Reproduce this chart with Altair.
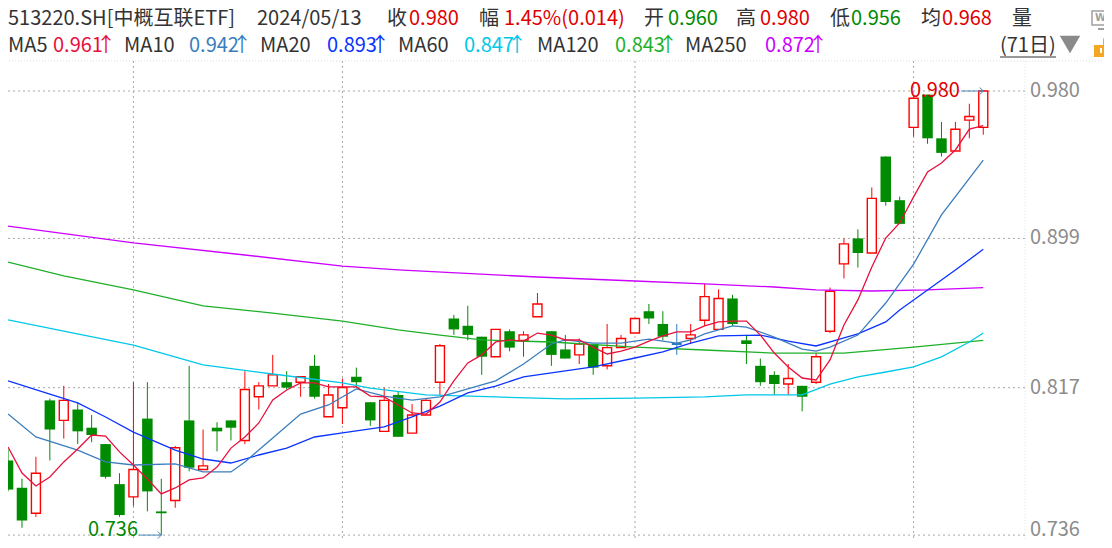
import altair as alt
import pandas as pd

# ------------------------------------------------------------------ data
opens = [0.777, 0.762, 0.748, 0.810, 0.799, 0.805, 0.795, 0.786, 0.764, 0.757,
         0.800, 0.749, 0.755, 0.799, 0.772, 0.795, 0.799, 0.788, 0.812, 0.818,
         0.820, 0.820, 0.829, 0.801, 0.806, 0.823, 0.809, 0.793, 0.813, 0.792,
         0.802, 0.820, 0.855, 0.851, 0.845, 0.834, 0.848, 0.843, 0.856, 0.848,
         0.838, 0.835, 0.841, 0.829, 0.839, 0.847, 0.859, 0.852, 0.841, 0.844,
         0.854, 0.849, 0.866, 0.843, 0.829, 0.824, 0.819, 0.818, 0.820, 0.848,
         0.885, 0.899, 0.891, 0.944, 0.920, 0.960, 0.978, 0.954, 0.947, 0.964,
         0.960]
highs = [0.783, 0.767, 0.779, 0.811, 0.818, 0.809, 0.802, 0.786, 0.770, 0.820,
         0.820, 0.767, 0.785, 0.829, 0.794, 0.798, 0.799, 0.826, 0.820, 0.835,
         0.826, 0.823, 0.835, 0.819, 0.822, 0.828, 0.809, 0.817, 0.815, 0.808,
         0.811, 0.841, 0.857, 0.862, 0.845, 0.849, 0.849, 0.848, 0.869, 0.848,
         0.846, 0.844, 0.841, 0.852, 0.846, 0.855, 0.863, 0.859, 0.852, 0.852,
         0.874, 0.871, 0.868, 0.846, 0.833, 0.826, 0.830, 0.818, 0.836, 0.872,
         0.899, 0.904, 0.927, 0.944, 0.922, 0.977, 0.978, 0.963, 0.963, 0.973,
         0.980]
lows = [0.760, 0.740, 0.746, 0.777, 0.789, 0.786, 0.787, 0.767, 0.746, 0.752,
        0.749, 0.736, 0.751, 0.771, 0.772, 0.782, 0.788, 0.786, 0.805, 0.818,
        0.816, 0.812, 0.811, 0.801, 0.797, 0.817, 0.796, 0.793, 0.790, 0.792,
        0.802, 0.813, 0.846, 0.843, 0.824, 0.834, 0.837, 0.834, 0.856, 0.829,
        0.833, 0.830, 0.824, 0.827, 0.839, 0.847, 0.852, 0.843, 0.835, 0.841,
        0.851, 0.849, 0.851, 0.830, 0.818, 0.813, 0.813, 0.804, 0.819, 0.847,
        0.877, 0.883, 0.891, 0.917, 0.907, 0.955, 0.951, 0.944, 0.947, 0.954,
        0.956]
closes = [0.761, 0.744, 0.770, 0.794, 0.810, 0.793, 0.791, 0.768, 0.747, 0.772,
          0.760, 0.748, 0.784, 0.773, 0.774, 0.793, 0.795, 0.816, 0.818, 0.824,
          0.817, 0.823, 0.812, 0.813, 0.817, 0.820, 0.799, 0.810, 0.790, 0.802,
          0.810, 0.840, 0.849, 0.846, 0.834, 0.849, 0.839, 0.846, 0.863, 0.835,
          0.833, 0.841, 0.828, 0.839, 0.844, 0.855, 0.855, 0.845, 0.841, 0.846,
          0.867, 0.866, 0.852, 0.841, 0.820, 0.819, 0.822, 0.812, 0.834, 0.870,
          0.896, 0.891, 0.921, 0.919, 0.907, 0.976, 0.954, 0.946, 0.959, 0.966,
          0.980]

ma5_idx = list(range(71))
ma5 = [0.7844, 0.7701, 0.7630, 0.7679, 0.7762, 0.7833, 0.7910, 0.7904, 0.7817, 0.7745,
       0.7668, 0.7586, 0.7619, 0.7663, 0.7674, 0.7734, 0.7838, 0.7899, 0.7976, 0.8102,
       0.8157, 0.8196, 0.8196, 0.8174, 0.8174, 0.8174, 0.8124, 0.8119, 0.8075, 0.8031,
       0.8025, 0.8091, 0.8207, 0.8306, 0.8350, 0.8421, 0.8432, 0.8426, 0.8470, 0.8459,
       0.8432, 0.8432, 0.8393, 0.8355, 0.8371, 0.8393, 0.8426, 0.8454, 0.8476, 0.8476,
       0.8509, 0.8531, 0.8536, 0.8536, 0.8459, 0.8360, 0.8284, 0.8223, 0.8212, 0.8322,
       0.8514, 0.8652, 0.8833, 0.8992, 0.9075, 0.9218, 0.9355, 0.9404, 0.9476, 0.9591,
       0.961]
ma10_idx = [0, 2, 5, 7, 9, 12, 14, 16, 17, 19, 21, 23, 25, 27, 29, 31, 33, 35, 37,
            39, 40, 42, 44, 46, 48, 49, 50, 52, 53, 55, 57, 58, 59, 61, 63, 65, 67, 70]
ma10 = [0.8025, 0.7899, 0.7827, 0.7762, 0.7745, 0.7751, 0.7707, 0.7707, 0.7762, 0.7893,
        0.8025, 0.8075, 0.8163, 0.8124, 0.8102, 0.8119, 0.8163, 0.8207, 0.8300, 0.8410,
        0.8432, 0.8415, 0.8415, 0.8437, 0.8415, 0.8432, 0.8465, 0.8509, 0.8503, 0.8448,
        0.8382, 0.8371, 0.8393, 0.8459, 0.8635, 0.8849, 0.9119, 0.942]
ma20_idx = [0, 3, 5, 7, 9, 12, 14, 16, 18, 20, 22, 24, 27, 29, 31, 33, 35, 37, 39,
            42, 45, 47, 49, 51, 54, 56, 58, 60, 61, 63, 64, 66, 68, 70]
ma20 = [0.8207, 0.8135, 0.8086, 0.8009, 0.7926, 0.7827, 0.7778, 0.7756, 0.7800, 0.7838,
        0.7899, 0.7921, 0.7954, 0.8009, 0.8069, 0.8141, 0.8179, 0.8229, 0.8251, 0.8284,
        0.8333, 0.8366, 0.8415, 0.8454, 0.8459, 0.8426, 0.8399, 0.8443, 0.8465, 0.8531,
        0.8597, 0.8707, 0.8817, 0.893]
ma60_idx = [0, 4, 9, 14, 19, 24, 26, 30, 35, 40, 45, 50, 53, 57, 59, 61, 63, 65, 67, 69, 70]
ma60 = [0.8542, 0.8481, 0.8404, 0.8295, 0.8245, 0.8196, 0.8168, 0.8130, 0.8119, 0.8108,
        0.8113, 0.8119, 0.8130, 0.8130, 0.8190, 0.8229, 0.8256, 0.8284, 0.8339, 0.8421,
        0.847]
ma120_idx = [0, 4, 9, 14, 19, 24, 28, 31, 34, 39, 45, 50, 55, 60, 65, 70]
ma120 = [0.8860, 0.8784, 0.8707, 0.8619, 0.8580, 0.8536, 0.8487, 0.8459, 0.8432, 0.8421,
         0.8393, 0.8377, 0.8360, 0.8360, 0.8393, 0.843]
ma250_idx = [0, 9, 17, 24, 28, 38, 45, 50, 55, 58, 62, 66, 70]
ma250 = [0.9058, 0.8965, 0.8899, 0.8838, 0.8817, 0.8778, 0.8756, 0.8740, 0.8723, 0.8707,
         0.8701, 0.8707, 0.872]

price_ticks = [0.980, 0.899, 0.817, 0.736]
month_start_idx = [9, 24, 45, 65]

title_texts = ["513220.SH[中概互联ETF]", "2024/05/13", "收", "0.980", "幅", "1.45%(0.014)",
               "开", "0.960", "高", "0.980", "低", "0.956", "均", "0.968", "量"]
ma_names = ["MA5", "MA10", "MA20", "MA60", "MA120", "MA250"]
ma_last = ["0.961", "0.942", "0.893", "0.847", "0.843", "0.872"]
ma_trend = ["↑", "↑", "↑", "↑", "↑", "↑"]
period_label = "(71日)"

# ------------------------------------------------------------------ style / layout
FONT = "Noto Sans CJK SC"
RED, GREEN, FLAT = "#ff0000", "#008c00", "#2f7bbf"
TXT, UP_T, DN_T = "#333333", "#e00000", "#008a00"
ma_colors = ["#e8103c", "#3b7dbd", "#0a33ff", "#00c8e8", "#1fb02a", "#cc00ff"]
title_colors = [TXT, TXT, TXT, UP_T, TXT, UP_T, TXT, DN_T, TXT, UP_T, TXT, DN_T, TXT, UP_T, TXT]

W, H, PAGE = 1096, 532, 8
STEP = 14.06                       # pixels between candles
X_FIRST = 3 - PAGE                 # chart x of first candle
PPU = 1820.0                       # pixels per price unit
REF_P, REF_Y = 0.980, 91 - PAGE
PLOT_RIGHT = 1025 - PAGE
TOP = 61 - PAGE

xs = alt.Scale(domain=[(0 - X_FIRST) / STEP, (W - X_FIRST) / STEP], nice=False, zero=False)
ys = alt.Scale(domain=[REF_P - (H - REF_Y) / PPU, REF_P + REF_Y / PPU], nice=False, zero=False)

title_x = [0, 257, 387, 409, 479, 504, 644, 668, 736, 760, 830, 851, 921, 942, 1012]
ma_name_x = [0, 124, 260, 398, 537, 685]
ma_val_x = [53, 189, 327, 464, 615, 765]
ARROW_DX = 53
LINE1_Y, LINE2_Y = 19, 46

# ------------------------------------------------------------------ frames
n = len(closes)
cdf = pd.DataFrame({"idx": range(n), "o": opens, "h": highs, "l": lows, "c": closes})
cdf["lo"] = cdf[["o", "c"]].min(axis=1)
cdf["hi"] = cdf[["o", "c"]].max(axis=1)
cdf["dir"] = ["up" if c > o else ("down" if c < o else "flat") for o, c in zip(opens, closes)]

X = alt.X("idx:Q", scale=xs, axis=None)


def P(field):
    return alt.Y(f"{field}:Q", scale=ys, axis=None)


def box(x1, x2, y1, y2):
    return pd.DataFrame({"x1": [x1 - PAGE], "x2": [x2 - PAGE], "y1": [y1 - PAGE], "y2": [y2 - PAGE]})


def px_enc():
    return dict(x=alt.X("x1:Q", scale=None), x2=alt.X2("x2:Q"),
                y=alt.Y("y1:Q", scale=None), y2=alt.Y2("y2:Q"))


layers = []

# frame + grid
layers.append(alt.Chart(box(0, W + PAGE, 61, 61)).mark_rule(color="#dddddd", strokeDash=[1, 2]).encode(
    x=alt.X("x1:Q", scale=None), x2=alt.X2("x2:Q"), y=alt.Y("y1:Q", scale=None)))
layers.append(alt.Chart(box(1025, 1025, 61, H + PAGE)).mark_rule(color="#e2e2e2", strokeDash=[1, 2]).encode(
    x=alt.X("x1:Q", scale=None), y=alt.Y("y1:Q", scale=None), y2=alt.Y2("y2:Q")))
layers.append(alt.Chart(pd.DataFrame({"p": price_ticks})).mark_rule(
    color="#a8a8a8", strokeDash=[2, 3], strokeWidth=1).encode(
    y=P("p"), x=alt.value(0), x2=alt.value(PLOT_RIGHT)))
layers.append(alt.Chart(pd.DataFrame({"idx": month_start_idx})).mark_rule(
    color="#a8a8a8", strokeDash=[2, 3], strokeWidth=1).encode(
    x=X, y=alt.value(TOP), y2=alt.value(H)))

# candles
for d, col in [("up", RED), ("down", GREEN), ("flat", FLAT)]:
    layers.append(alt.Chart(cdf).transform_filter(f"datum.dir == '{d}'").mark_rule(
        strokeWidth=1, color=col).encode(x=X, y=P("l"), y2=alt.Y2("h:Q")))
layers.append(alt.Chart(cdf).transform_filter("datum.dir == 'up'").mark_bar(
    size=9, fill="white", stroke=RED, strokeWidth=1.4).encode(x=X, y=P("lo"), y2=alt.Y2("hi:Q")))
layers.append(alt.Chart(cdf).transform_filter("datum.dir == 'down'").mark_bar(
    size=10.5, color=GREEN).encode(x=X, y=P("lo"), y2=alt.Y2("hi:Q")))
layers.append(alt.Chart(cdf).transform_filter("datum.dir == 'flat'").mark_bar(
    size=10, fill=FLAT, stroke=FLAT, strokeWidth=2).encode(x=X, y=P("lo"), y2=alt.Y2("hi:Q")))

# moving averages
ma_series = [("MA250", ma250_idx, ma250, ma_colors[5]), ("MA120", ma120_idx, ma120, ma_colors[4]),
             ("MA60", ma60_idx, ma60, ma_colors[3]), ("MA20", ma20_idx, ma20, ma_colors[2]),
             ("MA10", ma10_idx, ma10, ma_colors[1]), ("MA5", ma5_idx, ma5, ma_colors[0])]
for name, ix, vals, col in ma_series:
    layers.append(alt.Chart(pd.DataFrame({"idx": ix, "v": vals})).mark_line(
        strokeWidth=1.3, color=col).encode(x=X, y=P("v")))

# extreme annotations
hi_i = max(range(n), key=lambda i: highs[i])
lo_i = min(range(n), key=lambda i: lows[i])
ARROW = 22.5 / STEP
for i, p, col, dy in [(hi_i, highs[hi_i], UP_T, 0), (lo_i, lows[lo_i], DN_T, -5)]:
    a = pd.DataFrame({"idx": [i], "idx0": [i - ARROW], "p": [p], "t": [f"{p:.3f}"]})
    layers.append(alt.Chart(a).mark_rule(color="#4a88b8", strokeWidth=1).encode(
        x=alt.X("idx0:Q", scale=xs, axis=None), x2=alt.X2("idx:Q"), y=P("p")))
    layers.append(alt.Chart(a).mark_point(shape="M-1,-1L0,0L-1,1", filled=False, size=50,
                                          color="#4a88b8", strokeWidth=1, opacity=1).encode(x=X, y=P("p")))
    layers.append(alt.Chart(a).mark_text(align="right", baseline="middle", fontSize=20, font=FONT,
                                         dx=-1, dy=dy, color=col).encode(
        x=alt.X("idx0:Q", scale=xs, axis=None), y=P("p"), text="t:N"))

# right price axis
axis_df = pd.DataFrame({"p": price_ticks, "t": [f"{v:.3f}" for v in price_ticks]})
layers.append(alt.Chart(axis_df).transform_filter(f"datum.p > {min(price_ticks)}").mark_text(
    align="left", baseline="middle", fontSize=20, font=FONT, color="#8c8c8c").encode(
    x=alt.value(1030 - PAGE), y=P("p"), text="t:N"))
layers.append(alt.Chart(axis_df).transform_filter(f"datum.p <= {min(price_ticks)}").mark_text(
    align="left", baseline="middle", fontSize=20, font=FONT, color="#8c8c8c", dy=-5).encode(
    x=alt.value(1030 - PAGE), y=P("p"), text="t:N"))

# header text
hdr, hdr_arrow = [], []
for t, c, x in zip(title_texts, title_colors, title_x):
    hdr.append({"t": t, "col": c, "px": max(x - PAGE, 0), "py": LINE1_Y - PAGE})
for name, val, tr, col, xn, xv in zip(ma_names, ma_last, ma_trend, ma_colors, ma_name_x, ma_val_x):
    hdr.append({"t": name, "col": TXT, "px": max(xn - PAGE, 0), "py": LINE2_Y - PAGE})
    hdr.append({"t": val, "col": col, "px": xv - PAGE, "py": LINE2_Y - PAGE})
    hdr_arrow.append({"t": tr, "col": col, "px": xv + ARROW_DX - PAGE, "py": LINE2_Y - PAGE})
hdr.append({"t": period_label, "col": TXT, "px": 1000 - PAGE, "py": LINE2_Y - PAGE})
for rows, align in [(hdr, "left"), (hdr_arrow, "center")]:
    layers.append(alt.Chart(pd.DataFrame(rows)).mark_text(
        align=align, baseline="middle", fontSize=20, font=FONT).encode(
        x=alt.X("px:Q", scale=None), y=alt.Y("py:Q", scale=None), text="t:N",
        color=alt.Color("col:N", scale=None)))

# small widgets in the header
layers.append(alt.Chart(box(1000, 1056, 57, 57)).mark_rule(color=TXT, strokeWidth=1).encode(
    x=alt.X("x1:Q", scale=None), x2=alt.X2("x2:Q"), y=alt.Y("y1:Q", scale=None)))
layers.append(alt.Chart(box(1070, 1070, 44, 44)).mark_point(
    shape="M-1,-0.8L1,-0.8L0,0.9Z", filled=True, size=420, color="#8a8a8a", opacity=1).encode(
    x=alt.X("x1:Q", scale=None), y=alt.Y("y1:Q", scale=None)))
layers.append(alt.Chart(box(1094, 1108, 45, 57)).mark_rect(color="#f5a623").encode(**px_enc()))
layers.append(alt.Chart(box(1100, 1102, 48, 53)).mark_rect(color="white").encode(**px_enc()))
layers.append(alt.Chart(box(1108, 1108, 41, 41)).mark_point(
    shape="M-1,1L-1,-0.2A1,1 0 0 1 1,-0.2", filled=False, size=64, color="#f5a623",
    strokeWidth=2, opacity=1).encode(x=alt.X("x1:Q", scale=None), y=alt.Y("y1:Q", scale=None)))
layers.append(alt.Chart(box(1092, 1114, 11, 25)).mark_rect(
    fill="white", stroke="#a0a0a0", strokeWidth=1.5).encode(**px_enc()))
layers.append(alt.Chart(box(1095, 1095, 18, 18)).mark_text(
    text="WP", align="left", baseline="middle", fontSize=10, font="DejaVu Sans",
    color="#a0a0a0", fontWeight="bold").encode(x=alt.X("x1:Q", scale=None), y=alt.Y("y1:Q", scale=None)))
layers.append(alt.Chart(box(1098, 1108, 29, 29)).mark_rule(color="#a0a0a0", strokeWidth=2).encode(
    x=alt.X("x1:Q", scale=None), x2=alt.X2("x2:Q"), y=alt.Y("y1:Q", scale=None)))

chart = alt.layer(*layers).properties(
    width=W, height=H, padding=0,
    autosize=alt.AutoSizeParams(type="none"),
    background="white",
).configure_view(strokeWidth=0)

chart.save("out.html", embed_options={"renderer": "svg", "actions": False})
